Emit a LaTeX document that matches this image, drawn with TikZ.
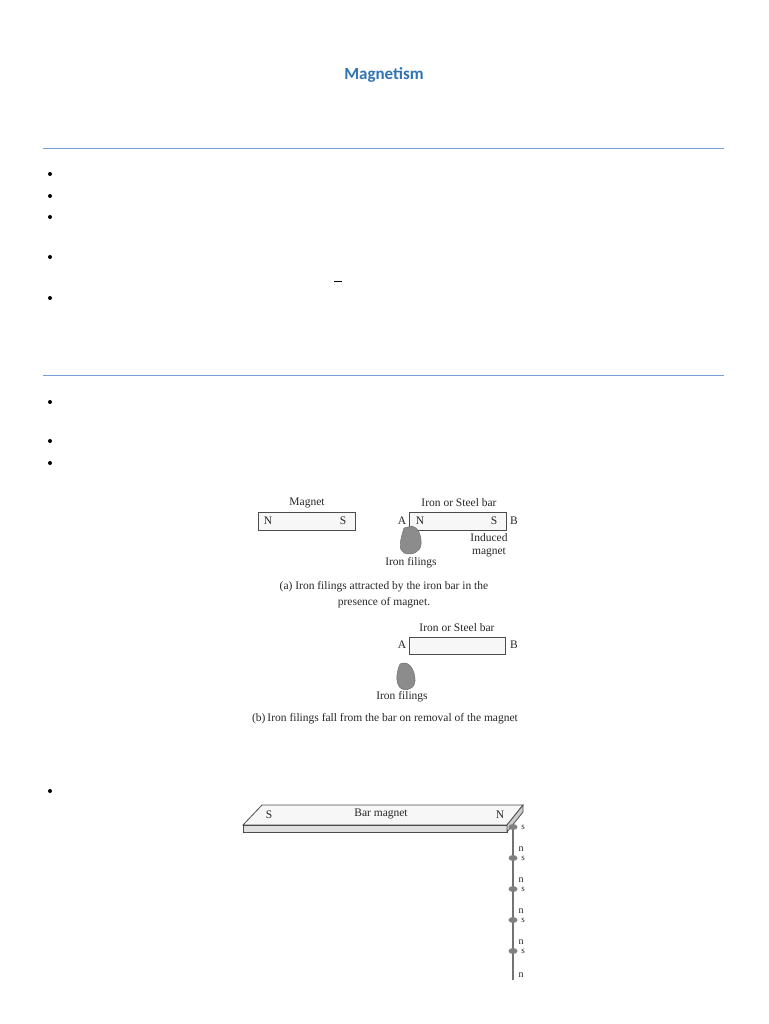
\documentclass[tikz,border=0pt]{standalone}
\usepackage{fontspec}
\setmainfont{Liberation Serif}
\newfontfamily\titlefont{Carlito}
\definecolor{ttl}{RGB}{46,116,181}
\definecolor{rule}{RGB}{120,160,215}
\begin{document}
\begin{tikzpicture}[x=1pt,y=-1pt,
  lbl/.style={font=\fontsize{11.5}{12}\selectfont,inner sep=0pt,text=black!85},
  bar/.style={draw=black!70,fill=black!3,line width=0.8pt},
  bul/.style={circle,fill=black,inner sep=0pt,minimum size=4pt},
  filing/.style={fill=black!45,draw=black!60}]
\useasboundingbox (0,0) rectangle (768,1024);
\node[font=\titlefont\fontsize{17}{18}\selectfont\bfseries,text=ttl] (title) at (384,75) {Magnetism};
\draw[rule,line width=0.6pt] (43,148) -- (724,148);
\draw[rule,line width=0.6pt] (43,375) -- (724,375);
\foreach \y [count=\i] in {174,196,217,257,298,402,441,463,791} \node[bul] (b\i) at (50,\y) {};
\draw (334,281) -- (342,281);
% figure a
\draw[bar] (258,512) rectangle (355,530);
\node[lbl] (mag) at (307,503) {Magnet};
\node[lbl] at (268,521) {N}; \node[lbl] at (343,521) {S};
\draw[bar] (409,512) rectangle (506,530);
\node[lbl] at (459,503) {Iron or Steel bar};
\node[lbl] at (402,521) {A}; \node[lbl] at (420,521) {N};
\node[lbl] at (494,521) {S}; \node[lbl] at (514,521) {B};
\draw[filing] (404,528) .. controls (400,540) and (398,550) .. (404,553) .. controls (412,556) and (420,552) .. (421,545) .. controls (422,536) and (418,527) .. (412,526) -- cycle;
\node[lbl] at (411,563) {Iron filings};
\node[lbl,align=center] at (489,545) {Induced\\[1pt]magnet};
\node[lbl] at (384,587) {(a) Iron filings attracted by the iron bar in the};
\node[lbl] at (384,603) {presence of magnet.};
% figure b
\draw[bar] (409,637) rectangle (505,654);
\node[lbl] at (457,628) {Iron or Steel bar};
\node[lbl] at (402,645) {A}; \node[lbl] at (514,645) {B};
\draw[filing] (400,664) .. controls (395,675) and (396,686) .. (402,689) .. controls (410,692) and (416,686) .. (415,678) .. controls (414,668) and (408,660) .. (400,664) -- cycle;
\node[lbl] at (402,697) {Iron filings};
\node[lbl] at (385,719) {(b)\,Iron filings fall from the bar on removal of the magnet};
% bar magnet
\draw[bar] (243,825) -- (262,805) -- (523,805) -- (507,825) -- cycle;
\draw[bar,fill=black!12] (243,825) -- (507,825) -- (507,832) -- (243,832) -- cycle;
\draw[bar,fill=black!20] (507,825) -- (523,805) -- (523,812) -- (507,832) -- cycle;
\node[lbl] at (269,815) {S};
\node[lbl] at (381,814) {Bar magnet};
\node[lbl] at (500,815) {N};
\draw[black!55,line width=1.8pt] (513,828) -- (513,980);
\foreach \y in {827,858,889,920,951} {
  \fill[black!50] (513,\y) ellipse (4.5pt and 3pt);
  \node[lbl,font=\fontsize{9}{9}\selectfont] at (523,\y) {s};
}
\foreach \y in {849,880,911,942,975}
  \node[lbl,font=\fontsize{10}{10}\selectfont] at (521,\y) {n};
\end{tikzpicture}
\end{document}
